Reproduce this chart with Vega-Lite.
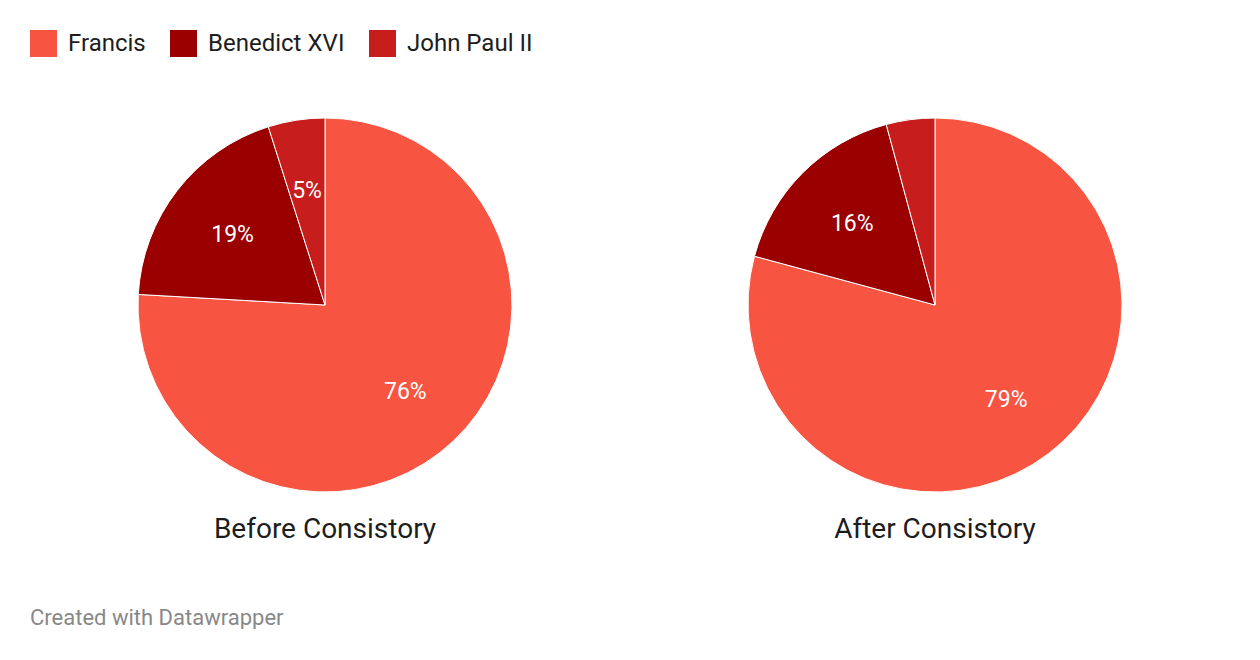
{
  "$schema": "https://vega.github.io/schema/vega-lite/v6.json",
  "padding": {"left": 30, "top": 30, "right": 0, "bottom": 0},
  "background": "#ffffff",
  "config": {
    "view": {"stroke": null},
    "font": "Roboto",
    "title": {"font": "Roboto", "fontWeight": "normal", "fontSize": 28, "color": "#1d1d1d"}
  },
  "data": {
    "values": [
      {"phase": "Before Consistory", "pope": "Francis", "rank": 1, "share": 75.9, "label": "76%"},
      {"phase": "Before Consistory", "pope": "Benedict XVI", "rank": 2, "share": 19.2, "label": "19%"},
      {"phase": "Before Consistory", "pope": "John Paul II", "rank": 3, "share": 4.9, "label": "5%"},
      {"phase": "After Consistory", "pope": "Francis", "rank": 1, "share": 79.2, "label": "79%"},
      {"phase": "After Consistory", "pope": "Benedict XVI", "rank": 2, "share": 16.6, "label": "16%"},
      {"phase": "After Consistory", "pope": "John Paul II", "rank": 3, "share": 4.2, "label": ""}
    ]
  },
  "title": {
    "text": "Created with Datawrapper",
    "orient": "bottom",
    "anchor": "start",
    "offset": 64,
    "fontSize": 22,
    "color": "#888888",
    "fontWeight": "normal"
  },
  "spacing": 232,
  "resolve": {"scale": {"color": "shared", "theta": "independent"}},
  "hconcat": [
    {
      "width": 374,
      "height": 374,
      "title": {"text": "Before Consistory", "orient": "bottom", "offset": 22},
      "transform": [{"filter": "datum.phase === 'Before Consistory'"}],
      "encoding": {
        "theta": {"field": "share", "type": "quantitative", "stack": true},
        "order": {"field": "rank", "type": "quantitative"}
      },
      "layer": [
        {
          "mark": {"type": "arc", "outerRadius": 187, "stroke": "#ffffff", "strokeWidth": 1},
          "encoding": {
            "color": {
              "field": "pope",
              "type": "nominal",
              "scale": {"domain": ["Francis", "Benedict XVI", "John Paul II"], "range": ["#f75442", "#9a0000", "#c71e1d"]},
              "legend": {
                "title": null,
                "orient": "none",
                "direction": "horizontal",
                "legendX": -108,
                "legendY": -88,
                "symbolType": "square",
                "symbolSize": 729,
                "symbolStrokeWidth": 0,
                "labelFont": "Roboto",
                "labelFontSize": 24,
                "labelColor": "#1d1d1d",
                "labelOffset": 11,
                "columnPadding": 24
              }
            }
          }
        },
        {
          "mark": {"type": "text", "radius": 117, "dy": 2, "font": "Roboto", "fontSize": 23, "color": "#ffffff"},
          "encoding": {"text": {"field": "label"}}
        }
      ]
    },
    {
      "width": 374,
      "height": 374,
      "title": {"text": "After Consistory", "orient": "bottom", "offset": 22},
      "transform": [{"filter": "datum.phase === 'After Consistory'"}],
      "encoding": {
        "theta": {"field": "share", "type": "quantitative", "stack": true},
        "order": {"field": "rank", "type": "quantitative"}
      },
      "layer": [
        {
          "mark": {"type": "arc", "outerRadius": 187, "stroke": "#ffffff", "strokeWidth": 1},
          "encoding": {
            "color": {"field": "pope", "type": "nominal"}
          }
        },
        {
          "mark": {"type": "text", "radius": 117, "dy": 2, "font": "Roboto", "fontSize": 23, "color": "#ffffff"},
          "encoding": {"text": {"field": "label"}}
        }
      ]
    }
  ]
}
